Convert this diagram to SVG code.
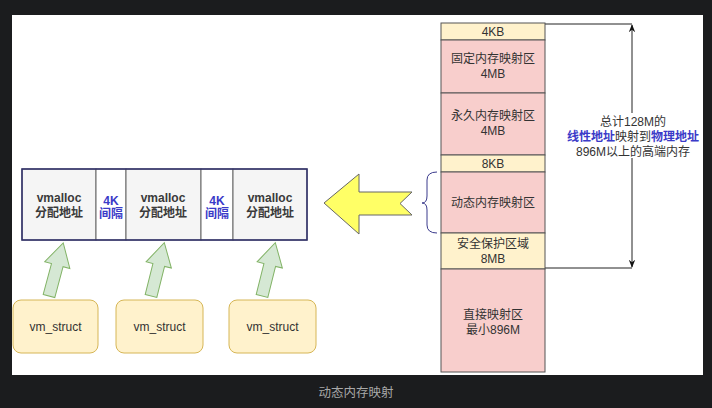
<svg xmlns="http://www.w3.org/2000/svg" width="712" height="408" viewBox="0 0 712 408">
<style>
text{font-family:"Liberation Sans","Noto Sans CJK SC",sans-serif;font-size:12px;fill:#333;text-anchor:middle}
.b{font-weight:bold;fill:#3a3a3a}
.blue{fill:#3a3ac8;font-weight:bold}
.vm{fill:#f5f5f5;stroke:#666;stroke-width:1}
.gap{fill:#fff;stroke:#666;stroke-width:1}
.ys{fill:#fff2cc;stroke:#d6b656;stroke-width:1}
.pk{fill:#f8cecc;stroke:#555;stroke-width:1}
.yl{fill:#fff2cc;stroke:#555;stroke-width:1}
.ga{fill:#d5e8d4;stroke:#82b366;stroke-width:1}
.ln{stroke:#222;stroke-width:1;fill:none}
</style>
<defs>
<marker id="ah" viewBox="0 0 10 10" refX="9" refY="5" markerWidth="8" markerHeight="8" orient="auto-start-reverse"><path d="M0,1 L10,5 L0,9 L3,5 Z" fill="#111"/></marker>
<polygon id="garrow" points="-6,0 6,0 6,-32 13,-32 0,-55 -13,-32 -6,-32"/>
</defs>
<rect width="712" height="408" fill="#1b1c1e"/>
<rect x="12" y="15" width="691" height="360" fill="#fff"/>
<text x="356" y="397" style="fill:#a8a8a8;font-size:12.5px">动态内存映射</text>

<g id="vmalloc-bar">
<rect x="22" y="169" width="74" height="71" class="vm"/>
<rect x="96" y="169" width="30" height="71" class="gap"/>
<rect x="126" y="169" width="75" height="71" class="vm"/>
<rect x="201" y="169" width="32" height="71" class="gap"/>
<rect x="233" y="169" width="74" height="71" class="vm"/>
<rect x="22" y="169" width="285" height="71" fill="none" stroke="#2e2e6a" stroke-width="1.5"/>
</g>
<g id="vmalloc1"><text x="59" y="202" class="b">vmalloc</text><text x="59" y="217" class="b">分配地址</text></g>
<g id="gap1"><text x="111" y="205" class="blue">4K</text><text x="111" y="218" class="blue">间隔</text></g>
<g id="vmalloc2"><text x="163" y="202" class="b">vmalloc</text><text x="163" y="217" class="b">分配地址</text></g>
<g id="gap2"><text x="217" y="205" class="blue">4K</text><text x="217" y="218" class="blue">间隔</text></g>
<g id="vmalloc3"><text x="270" y="202" class="b">vmalloc</text><text x="270" y="217" class="b">分配地址</text></g>

<g id="vm1"><rect x="13" y="300" width="85" height="53" rx="8" class="ys"/><text x="55.5" y="331">vm_struct</text></g>
<g id="vm2"><rect x="116" y="300" width="87" height="53" rx="8" class="ys"/><text x="159.5" y="331">vm_struct</text></g>
<g id="vm3"><rect x="229" y="300" width="87" height="53" rx="8" class="ys"/><text x="272.5" y="331">vm_struct</text></g>

<g id="connectors">
<use href="#garrow" class="ga" transform="translate(49,296) rotate(15)"/>
<use href="#garrow" class="ga" transform="translate(151,296) rotate(14)"/>
<use href="#garrow" class="ga" transform="translate(262,296) rotate(14)"/>
<polygon points="324,203 359,174 359,192 412,192 400,203.5 412,215 359,215 359,234" fill="#ffff66" stroke="#666" stroke-width="1"/>
<path d="M437,172 Q427,172 427,180 L427,196 Q427,203 422,203 Q427,203 427,210 L427,225 Q427,233 437,233" fill="none" stroke="#3a3a8c" stroke-width="1"/>
<line x1="545" y1="24" x2="632" y2="24" class="ln"/>
<line x1="545" y1="268" x2="632" y2="268" class="ln"/>
<line x1="632" y1="25" x2="632" y2="267" class="ln" marker-start="url(#ah)" marker-end="url(#ah)"/>
</g>

<g id="mem-column">
<g id="r4kb"><rect x="441" y="23" width="104" height="17" class="yl"/><text x="493" y="36">4KB</text></g>
<g id="fixmap"><rect x="441" y="40" width="104" height="53" class="pk"/><text x="493" y="63">固定内存映射区</text><text x="493" y="78">4MB</text></g>
<g id="pkmap"><rect x="441" y="93" width="104" height="62" class="pk"/><text x="493" y="120">永久内存映射区</text><text x="493" y="135">4MB</text></g>
<g id="r8kb"><rect x="441" y="155" width="104" height="17" class="yl"/><text x="493" y="168">8KB</text></g>
<g id="vmalloc-area"><rect x="441" y="172" width="104" height="61" class="pk"/><text x="493" y="207">动态内存映射区</text></g>
<g id="guard"><rect x="441" y="233" width="104" height="36" class="yl"/><text x="493" y="248">安全保护区域</text><text x="493" y="263">8MB</text></g>
<g id="direct"><rect x="441" y="269" width="104" height="103" class="pk"/><text x="493" y="319">直接映射区</text><text x="493" y="334">最小896M</text></g>
</g>

<g id="note">
<rect x="566" y="113" width="136" height="45" fill="#fff"/>
<text x="633" y="126">总计128M的</text>
<text x="633" y="141"><tspan class="blue">线性地址</tspan>映射到<tspan class="blue">物理地址</tspan></text>
<text x="633" y="156">896M以上的高端内存</text>
</g>
</svg>
